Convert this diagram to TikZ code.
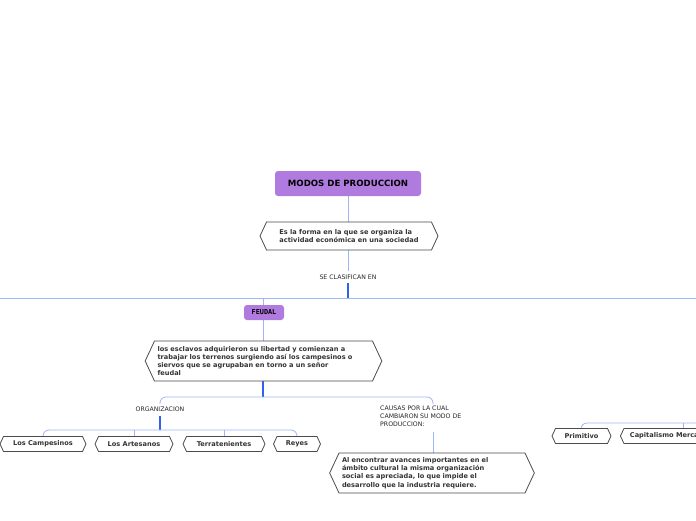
\documentclass[tikz,border=0pt]{standalone}
\usepackage{fontspec}
\setmainfont{DejaVu Sans}
\setmonofont{DejaVu Sans Mono}
\usetikzlibrary{shapes.symbols}
\definecolor{purp}{HTML}{B07BDE}
\definecolor{lblue}{HTML}{9DB6F7}
\definecolor{dblue}{HTML}{2F62EE}
\tikzset{
  x=1pt,y=-1pt,
  title/.style={fill=purp,rounded corners=3pt,font=\fontsize{8.6}{10}\selectfont\bfseries,inner sep=0pt},
  hexa/.style={draw=black!70,fill=white,signal,signal to=west and east,signal pointer angle=130,font=\fontsize{6.6}{8.2}\selectfont\bfseries,text=black!80,inner xsep=3pt,inner ysep=3pt,thick},
  lbl/.style={font=\fontsize{6.2}{8}\selectfont,text=black!85,inner sep=0pt},
  thin/.style={draw=lblue,line width=0.8pt,rounded corners=6pt},
  thk/.style={draw=dblue,line width=1.2pt},
}
\begin{document}
\begin{tikzpicture}
\clip (0,0) rectangle (696,520);
\useasboundingbox (0,0) rectangle (696,520);
\fill[white] (0,0) rectangle (696,520);
\coordinate (L) at (-10,298);
\coordinate (R) at (706,298);
\draw[thin] (L) -- (R);
\draw[thin] (348,196) -- (348,222);
\draw[thin] (348,250) -- (348,271);
\draw[thk] (348,283) -- (348,298);
\draw[thin] (263,298) -- (263,305);
\draw[thin] (263,320) -- (263,341);
\draw[thk] (263,381) -- (263,397);
\draw[thin] (160,404) -- (160,397) -- (433,397) -- (433,404);
\draw[thk] (160,416) -- (160,430);
\draw[thin] (43,437) -- (43,430) -- (297,430) -- (297,437);
\draw[thin] (134,430) -- (134,437);
\draw[thin] (224,430) -- (224,437);
\draw[thin] (433,432) -- (433,453);
\draw[thin] (581,429) -- (581,423) -- (720,423);
\draw[thin] (683,429) -- (683,423);
\node[title,minimum width=146pt,minimum height=25pt] (m) at (348,183.5) {MODOS DE PRODUCCION};
\node[hexa,minimum width=178pt,minimum height=28pt,align=left] (e) at (349,236) {Es la forma en la que se organiza la\\actividad económica en una sociedad};
\node[lbl] (se) at (348,277) {SE CLASIFICAN EN};
\node[title,minimum width=40pt,minimum height=15pt,font=\fontsize{6.8}{8}\selectfont\bfseries\ttfamily] (f) at (264,312.5) {FEUDAL};
\node[hexa,minimum width=231pt,minimum height=40pt,align=left,text width=212pt] (es) at (263.5,361) {los esclavos adquirieron su libertad y comienzan a\\trabajar los terrenos surgiendo así los campesinos o\\siervos que se agrupaban en torno a un señor\\feudal};
\node[lbl] (o) at (160,409.5) {ORGANIZACION};
\node[lbl,anchor=north west,align=left] (c) at (380,406) {CAUSAS POR LA CUAL\\CAMBIARON SU MODO DE\\PRODUCCION:};
\node[hexa,minimum width=86pt,minimum height=15pt] (p1) at (43,444) {Los Campesinos};
\node[hexa,minimum width=78pt,minimum height=15pt] (p2) at (134,444) {Los Artesanos};
\node[hexa,minimum width=82pt,minimum height=15pt] (p3) at (224,444) {Terratenientes};
\node[hexa,minimum width=47pt,minimum height=15pt] (p4) at (297,444) {Reyes};
\node[hexa,minimum width=198pt,minimum height=40pt,align=left,text width=180pt] (a) at (432,473) {Al encontrar avances importantes en el\\ámbito cultural la misma organización\\social es apreciada, lo que impide el\\desarrollo que la industria requiere.};
\node[hexa,minimum width=59pt,minimum height=15pt] (pr) at (581.5,436) {Primitivo};
\node[hexa,minimum height=15pt,inner xsep=6pt,anchor=west] (ca) at (620,436) {Capitalismo Mercantil};
\end{tikzpicture}
\end{document}
